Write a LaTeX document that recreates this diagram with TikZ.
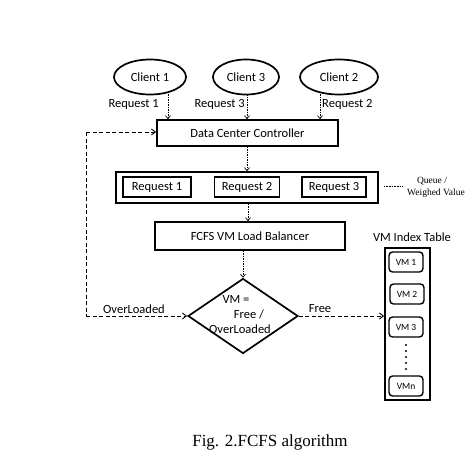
\documentclass[tikz,border=0pt]{standalone}
\usepackage{fontspec}
\setmainfont{Carlito}
\newfontfamily\capfont{Liberation Serif}
\usetikzlibrary{shapes.geometric,arrows.meta}
\begin{document}
\begin{tikzpicture}[x=1pt,y=-1pt,
  client/.style={draw,line width=1.7pt,ellipse,minimum width=70pt,minimum height=35pt,inner sep=0pt,font=\fontsize{12.5}{14}\selectfont},
  bigbox/.style={draw,line width=1.7pt,inner sep=0pt,font=\fontsize{12.5}{14}\selectfont},
  reqbox/.style={draw,line width=1.7pt,inner sep=0pt,minimum height=20pt,font=\fontsize{12.5}{14}\selectfont},
  vmbox/.style={draw,line width=1.4pt,rounded corners=3.5pt,inner sep=0pt,minimum width=34pt,minimum height=20pt,font=\fontsize{9.5}{11}\selectfont},
  lbl/.style={inner sep=0pt,font=\fontsize{12.5}{14}\selectfont},
  dotarr/.style={dash pattern=on 1.5pt off 1pt,line width=0.7pt,-{Straight Barb[length=3pt,width=5pt]}},
  dasharr/.style={dash pattern=on 4pt off 2.5pt,line width=0.9pt,-{Straight Barb[length=4pt,width=6pt]}},
  dashline/.style={dash pattern=on 4pt off 2.5pt,line width=0.9pt}]
\useasboundingbox (0,0) rectangle (474,453);
% clients
\node[client,minimum width=72pt] (c1) at (150,77) {Client 1};
\node[client,minimum width=66pt] (c3) at (246,77) {Client 3};
\node[client,minimum width=78pt] (c2) at (339,77) {Client 2};
% data center controller
\node[bigbox,minimum width=181pt,minimum height=26pt] (dcc) at (247.5,133) {Data Center Controller};
% request labels
\node[lbl,anchor=east] (r1l) at (159,104) {Request 1};
\node[lbl,anchor=east] (r3l) at (245,104) {Request 3};
\node[lbl,anchor=west] (r2l) at (322,104) {Request 2};
% client arrows
\coordinate (a1) at (168,94);
\coordinate (a3) at (247,94);
\coordinate (a2) at (320,94);
\draw[dotarr] (a1) -- (a1 |- dcc.north);
\draw[dotarr] (a3) -- (a3 |- dcc.north);
\draw[dotarr] (a2) -- (a2 |- dcc.north);
% queue
\node[bigbox,minimum width=262pt,minimum height=31pt] (queue) at (247,187.5) {};
\node[reqbox,minimum width=68pt] (q1) at (157,187) {Request 1};
\node[reqbox,minimum width=65pt] (q2) at (247,187) {Request 2};
\node[reqbox,minimum width=64pt] (q3) at (334,187) {Request 3};
\draw[dotarr] (dcc.south -| 247,0) -- (queue.north -| 247,0);
% queue note
\coordinate (qn) at (384,186);
\draw[densely dotted,line width=0.6pt] (qn) -- ++(19,0);
\node[inner sep=0pt,font=\capfont\fontsize{9.5}{11}\selectfont] (qt1) at (432,181) {Queue /};
\node[inner sep=0pt,anchor=west,font=\capfont\fontsize{9.5}{11}\selectfont] (qt2) at (407,193) {Weighed Value};
% load balancer
\node[bigbox,minimum width=190pt,minimum height=28pt] (lb) at (250,236) {FCFS VM Load Balancer};
\draw[dotarr] (queue.south -| 248,0) -- (lb.north -| 248,0);
% diamond
\node[draw,line width=1.7pt,diamond,minimum width=110pt,minimum height=75pt,inner sep=0pt] (dm) at (243,316) {};
\node[lbl] (dt1) at (236,299) {VM =};
\node[lbl] (dt2) at (249,314) {Free /};
\node[lbl] (dt3) at (240,329) {OverLoaded};
\draw[dotarr] (lb.south -| 243,0) -- (dm.north);
% VM index table
\node[lbl] (vt) at (412,237) {VM Index Table};
\node[draw,line width=1.7pt,minimum width=45pt,minimum height=152pt,inner sep=0pt] (tbl) at (407.5,324) {};
\node[vmbox] (v1) at (406,262) {VM 1};
\node[vmbox] (v2) at (407,294) {VM 2};
\node[vmbox] (v3) at (406,327) {VM 3};
\node[vmbox] (vn) at (406,386) {VMn};
\foreach \yy in {345,351,357,363,369} \fill (406,\yy) circle (1.2pt);
% free
\draw[dasharr] (dm.east) -- (dm.east -| tbl.west);
\node[lbl] (fr) at (320,309) {Free};
% overloaded loop
\coordinate (lc) at (86,316);
\coordinate (tc) at (86,132);
\draw[dashline] (tc) -- (lc);
\draw[dasharr] (lc) -- (dm.west);
\draw[dasharr] (tc) -- (tc -| dcc.west);
\node[lbl] (ol) at (134,309) {OverLoaded};
% caption
\node[inner sep=0pt,font=\capfont\fontsize{17}{19}\selectfont] (cap) at (270,442) {Fig. 2.FCFS algorithm};
\end{tikzpicture}
\end{document}
